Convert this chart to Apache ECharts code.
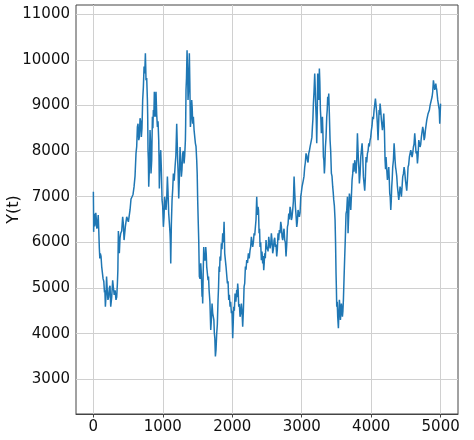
<!DOCTYPE html>
<html>
<head>
<meta charset="utf-8">
<script src="https://cdn.jsdelivr.net/npm/echarts@6/dist/echarts.min.js"></script>
<style>
html,body{margin:0;padding:0;background:#fff;}
#chart{width:474px;height:440px;}
</style>
</head>
<body>
<div id="chart"></div>
<script>
var timeSteps = [0,2,4,7,10,15,20,27,35,42,50,60,70,78,86,93,100,110,120,130,140,150,160,166,173,181,190,200,210,220,230,240,250,264,278,289,300,313,326,336,346,353,360,367,374,384,394,408,422,432,442,461,480,504,528,542,557,571,586,600,614,624,634,643,653,662,672,681,691,700,710,720,730,740,749,753,758,768,778,782,787,792,797,806,816,823,830,840,850,857,864,871,878,885,893,897,902,912,922,931,941,945,950,960,970,979,989,998,1008,1017,1027,1036,1046,1056,1066,1075,1085,1094,1104,1109,1114,1123,1133,1142,1152,1164,1176,1188,1200,1207,1214,1221,1229,1238,1248,1257,1267,1276,1286,1296,1306,1315,1325,1329,1334,1341,1349,1356,1363,1372,1382,1389,1397,1406,1416,1423,1430,1440,1450,1459,1469,1478,1488,1495,1502,1509,1517,1521,1526,1536,1546,1555,1565,1569,1574,1581,1589,1596,1603,1610,1618,1625,1632,1641,1651,1658,1666,1678,1690,1699,1709,1718,1728,1735,1742,1749,1757,1766,1776,1785,1795,1802,1810,1817,1824,1833,1843,1852,1862,1872,1882,1886,1891,1900,1910,1920,1930,1939,1949,1958,1968,1977,1987,1996,2006,2013,2021,2030,2040,2052,2064,2071,2078,2085,2093,2102,2112,2121,2131,2140,2150,2160,2170,2179,2189,2198,2208,2220,2232,2244,2256,2265,2275,2284,2294,2304,2314,2323,2333,2342,2352,2361,2371,2378,2386,2393,2400,2409,2419,2428,2438,2445,2453,2460,2467,2476,2486,2496,2506,2515,2525,2534,2544,2553,2563,2572,2582,2592,2602,2611,2621,2630,2640,2649,2659,2668,2678,2688,2698,2707,2717,2726,2736,2745,2755,2764,2774,2784,2794,2803,2813,2822,2832,2841,2851,2860,2870,2880,2890,2899,2909,2918,2928,2937,2947,2956,2966,2976,2986,2995,3005,3014,3024,3033,3043,3052,3062,3072,3082,3091,3101,3110,3120,3129,3139,3146,3154,3161,3168,3177,3187,3194,3202,3209,3216,3223,3230,3237,3245,3249,3254,3261,3269,3276,3283,3290,3298,3305,3312,3319,3326,3333,3341,3350,3360,3367,3374,3381,3389,3398,3408,3417,3427,3436,3446,3453,3461,3470,3480,3487,3494,3499,3504,3511,3518,3523,3528,3535,3542,3549,3557,3564,3571,3578,3586,3593,3600,3609,3619,3628,3638,3648,3658,3662,3667,3676,3686,3696,3706,3715,3725,3734,3744,3753,3763,3772,3782,3792,3802,3809,3816,3823,3830,3840,3850,3859,3869,3878,3888,3897,3907,3916,3926,3936,3946,3955,3965,3974,3984,3993,4003,4012,4022,4032,4042,4051,4061,4070,4080,4089,4099,4106,4114,4121,4128,4137,4147,4154,4162,4171,4181,4190,4200,4207,4214,4224,4234,4243,4253,4260,4267,4274,4282,4289,4296,4303,4310,4320,4330,4337,4344,4351,4358,4368,4378,4387,4397,4406,4416,4425,4435,4444,4454,4464,4474,4483,4493,4502,4512,4521,4531,4540,4550,4560,4570,4579,4589,4598,4608,4617,4627,4636,4646,4656,4666,4675,4685,4694,4704,4713,4723,4732,4742,4752,4762,4771,4781,4790,4800,4809,4819,4828,4838,4848,4858,4867,4877,4886,4896,4905,4915,4922,4930,4937,4944,4951,4958,4965,4973,4980,4987,4993,4999];
var yValues = [7110,6800,6230,6450,6630,6580,6350,6420,6650,6520,6300,6380,6600,6250,5870,5650,5760,5700,5470,5500,5200,5150,4900,4950,4590,4800,5250,4950,4740,4800,5000,5050,4590,4800,5170,5000,4850,4950,4740,4800,5100,5400,6250,6000,5760,6100,6200,6250,6560,6400,6050,6350,6560,6450,6710,6950,7000,7050,7220,7450,7950,8100,8530,8600,8240,8300,8720,8650,8310,8500,9120,9400,9850,9700,10140,9900,9550,9600,9120,8800,8020,7800,7220,7600,8460,8200,7510,7800,8750,8500,8900,8750,9300,9000,8750,8950,9300,8800,8530,8650,8240,7900,7180,7700,8020,7600,6930,6800,6340,6550,7000,6850,6710,6950,7440,7100,6630,6600,6200,6000,5540,6400,6930,7150,7510,7350,7650,7900,8600,8200,7800,7500,6960,7400,8090,7800,7440,7600,7950,8000,7730,7900,8240,8600,9340,9600,10210,9800,9120,9400,10140,9500,8530,8700,9120,8950,8600,8750,8460,8500,8170,8100,7800,7500,6930,6500,6050,5700,5250,5200,5540,5300,4810,5000,4660,5300,5900,5600,5760,5600,5900,5750,5470,5500,5170,5250,4960,4700,4080,4300,4660,4450,4480,4300,4010,3900,3500,3650,4010,4200,4740,5000,5470,5350,5690,5600,5980,5850,6200,6000,6450,6200,5760,5800,5470,5450,5100,5150,4740,4850,4590,4700,4450,4500,3900,4200,4590,4500,4880,4700,4960,4800,5100,4950,4590,4650,4370,4450,4660,4500,4150,4500,5030,5100,5470,5400,5610,5550,5760,5650,5830,5900,6120,6000,5900,6000,6200,6150,6340,6500,7000,6600,6780,6700,6200,6300,5900,6000,5610,5800,5540,5700,5390,5550,5760,5650,6050,5850,5900,5800,6120,6000,5870,5950,6200,6050,5760,5850,6050,6100,5900,5950,5690,5850,6200,6050,6270,6200,6450,6350,6120,6050,6200,6300,6050,6000,5690,5950,6340,6400,6630,6500,6780,6700,6490,6550,6710,6900,7440,7100,6780,6600,6340,6450,6710,6700,6560,6650,7000,7100,7220,7200,7370,7450,7650,7750,7950,7900,7800,7750,7950,8000,8090,8050,8240,8300,8530,8700,9040,9300,9700,9400,8970,8700,8170,8800,9700,9500,9120,9300,9810,9500,8900,8700,8390,8500,8750,8400,7870,7800,7510,7700,8090,8300,8750,8900,9190,9000,9260,8800,8240,8000,7510,7450,7220,7100,6930,6800,6490,6000,5320,5000,4590,4700,4370,4400,4120,4450,4740,4600,4300,4450,4660,4550,4370,4500,4740,5200,5690,6100,6630,6700,7000,6800,6200,6600,7070,6950,6710,7000,7370,7500,7730,7550,7800,7700,7510,7800,8390,8100,7800,7600,7290,7500,7870,7900,8170,7900,7440,7400,7130,7400,7870,7750,7950,8000,8170,8100,8240,8300,8460,8550,8750,8700,8900,8900,9150,9000,8820,8600,8240,8550,8900,8800,9040,8900,8680,8700,8460,8600,8820,8500,7800,7600,7870,7600,7370,7500,7650,7400,7070,7000,6710,6900,7220,7400,7650,7800,8170,8000,7800,7650,7580,7450,7220,7200,6930,7050,7220,7150,7000,7200,7440,7500,7650,7550,7370,7400,7130,7350,7650,7700,7870,7850,8020,8000,7870,7950,8090,8150,8390,8200,7950,8000,7730,7900,8240,8200,8090,8150,8310,8350,8530,8450,8240,8300,8460,8500,8680,8700,8820,8800,8900,9000,8970,9000,9190,9300,9550,9450,9340,9350,9480,9400,9340,9300,9120,9100,8970,8900,8600,8800,9040];
var xTicks = [0,1000,2000,3000,4000,5000];
var yTicks = [3000,4000,5000,6000,7000,8000,9000,10000,11000];

var n = Math.min(timeSteps.length, yValues.length);
var seriesData = [];
for (var i = 0; i < n; i++) seriesData.push([timeSteps[i], yValues[i]]);
var chart = echarts.init(document.getElementById('chart'));
var font = 'DejaVu Sans';
var plain = function(v){return String(v);};
chart.setOption({
  animation:false,
  backgroundColor:'#fff',
  grid:{left:76,top:5,right:16,bottom:26,containLabel:false,outerBoundsMode:'none',
    show:true,borderColor:'#444',borderWidth:1,backgroundColor:'transparent'},
  xAxis:{type:'value',min:-250,max:5250,
    axisLine:{show:true,lineStyle:{color:'#444'}},
    axisTick:{show:true,length:3.5,lineStyle:{color:'#444'},customValues:xTicks},
    axisLabel:{fontFamily:font,fontSize:15,color:'#111',margin:6,customValues:xTicks,formatter:plain},
    splitLine:{show:false}
  },
  yAxis:{type:'value',min:2240,max:11200,
    axisLine:{show:true,lineStyle:{color:'#444'}},
    axisTick:{show:true,length:3.5,lineStyle:{color:'#444'},customValues:yTicks},
    axisLabel:{fontFamily:font,fontSize:15,color:'#111',margin:6,customValues:yTicks,formatter:plain},
    splitLine:{show:false},
    name:'Y(t)',nameLocation:'middle',nameGap:54,nameRotate:90,nameMoveOverlap:false,
    nameTextStyle:{fontFamily:font,fontSize:16,color:'#111'}
  },
  series:[
    {type:'line',data:[],silent:true,markLine:{silent:true,symbol:'none',label:{show:false},
      lineStyle:{color:'#d0d0d0',width:1,type:'solid'},
      data:xTicks.map(function(v){return {xAxis:v};}).concat(yTicks.map(function(v){return {yAxis:v};}))}},
    {type:'line',data:seriesData,showSymbol:false,symbol:'none',zlevel:1,
     lineStyle:{color:'#1f77b4',width:1.5}}
  ]
});
</script>
</body>
</html>
